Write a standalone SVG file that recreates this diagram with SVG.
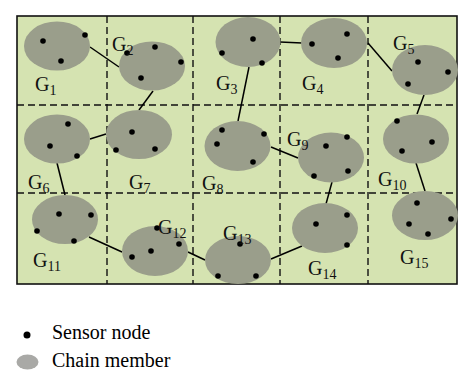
<svg xmlns="http://www.w3.org/2000/svg" width="474" height="391" viewBox="0 0 474 391">
<style>
.bg{fill:#d5e3b1;stroke:#111;stroke-width:1.6}
.grid{stroke:#111;stroke-width:1.4;stroke-dasharray:7 4;fill:none}
.cl{fill:#9a9e8b}
.d{fill:#000}
.lk{stroke:#000;stroke-width:1.5;fill:none}
.lb{font-family:"Liberation Serif",serif;font-size:20px;fill:#111}
.sb{font-size:14px}
.lg{font-family:"Liberation Serif",serif;font-size:20px;fill:#000}
</style>
<rect class="bg" x="17" y="16" width="440" height="268"/>
<g id="grid">
<line class="grid" x1="107" y1="16" x2="107" y2="284"/>
<line class="grid" x1="193" y1="16" x2="193" y2="284"/>
<line class="grid" x1="280" y1="16" x2="280" y2="284"/>
<line class="grid" x1="368" y1="16" x2="368" y2="284"/>
<line class="grid" x1="17" y1="105" x2="457" y2="105"/>
<line class="grid" x1="17" y1="193" x2="457" y2="193"/>
</g>
<g id="connectors">
<line class="lk" x1="90" y1="47" x2="119" y2="67"/>
<line class="lk" x1="153" y1="91" x2="139" y2="110"/>
<line class="lk" x1="280" y1="42" x2="302" y2="43"/>
<line class="lk" x1="368" y1="43" x2="392" y2="71"/>
<line class="lk" x1="424" y1="95" x2="417" y2="114"/>
<line class="lk" x1="90" y1="139" x2="106" y2="134"/>
<line class="lk" x1="249" y1="67" x2="238" y2="121"/>
<line class="lk" x1="271" y1="147" x2="298" y2="158"/>
<line class="lk" x1="332" y1="182" x2="326" y2="204"/>
<line class="lk" x1="416" y1="163" x2="425" y2="191"/>
<line class="lk" x1="57" y1="163" x2="65" y2="195"/>
<line class="lk" x1="89" y1="237" x2="122" y2="252"/>
<line class="lk" x1="188" y1="252" x2="205" y2="260"/>
<line class="lk" x1="271" y1="259" x2="302" y2="246"/>
</g>
<g id="G1"><ellipse class="cl" cx="57" cy="46" rx="33" ry="24.5"/><circle class="d" cx="43" cy="41" r="2.8"/><circle class="d" cx="85" cy="35" r="2.8"/><circle class="d" cx="61" cy="61" r="2.8"/><text class="lb" x="35" y="91">G<tspan class="sb" dy="4">1</tspan></text></g>
<g id="G2"><ellipse class="cl" cx="152" cy="66" rx="33" ry="24.5"/><circle class="d" cx="127" cy="53" r="2.8"/><circle class="d" cx="155" cy="47" r="2.8"/><circle class="d" cx="181" cy="62" r="2.8"/><circle class="d" cx="141" cy="78" r="2.8"/><text class="lb" x="112" y="51">G<tspan class="sb" dy="4">2</tspan></text></g>
<g id="G3"><ellipse class="cl" cx="248" cy="42" rx="32.5" ry="25"/><circle class="d" cx="253" cy="39" r="2.8"/><circle class="d" cx="222" cy="53" r="2.8"/><circle class="d" cx="262" cy="63" r="2.8"/><text class="lb" x="216" y="90">G<tspan class="sb" dy="4">3</tspan></text></g>
<g id="G4"><ellipse class="cl" cx="334" cy="43" rx="33" ry="25"/><circle class="d" cx="312" cy="44" r="2.8"/><circle class="d" cx="347" cy="34" r="2.8"/><circle class="d" cx="338" cy="58" r="2.8"/><text class="lb" x="302" y="90">G<tspan class="sb" dy="4">4</tspan></text></g>
<g id="G5"><ellipse class="cl" cx="425" cy="70" rx="33" ry="25"/><circle class="d" cx="418" cy="62" r="2.8"/><circle class="d" cx="448" cy="72" r="2.8"/><circle class="d" cx="408" cy="84" r="2.8"/><text class="lb" x="393" y="50">G<tspan class="sb" dy="4">5</tspan></text></g>
<g id="G6"><ellipse class="cl" cx="57" cy="139" rx="33" ry="24.5"/><circle class="d" cx="68" cy="124" r="2.8"/><circle class="d" cx="50" cy="146" r="2.8"/><circle class="d" cx="77" cy="156" r="2.8"/><text class="lb" x="28" y="189">G<tspan class="sb" dy="4">6</tspan></text></g>
<g id="G7"><ellipse class="cl" cx="139" cy="134.5" rx="33" ry="24.5"/><circle class="d" cx="132" cy="132" r="2.8"/><circle class="d" cx="116" cy="150" r="2.8"/><circle class="d" cx="155" cy="149" r="2.8"/><text class="lb" x="129" y="189">G<tspan class="sb" dy="4">7</tspan></text></g>
<g id="G8"><ellipse class="cl" cx="237.5" cy="146" rx="33" ry="25"/><circle class="d" cx="222" cy="130" r="2.8"/><circle class="d" cx="264" cy="134" r="2.8"/><circle class="d" cx="217" cy="144" r="2.8"/><circle class="d" cx="253" cy="162" r="2.8"/><text class="lb" x="202" y="190">G<tspan class="sb" dy="4">8</tspan></text></g>
<g id="G9"><ellipse class="cl" cx="331" cy="157.5" rx="33" ry="25"/><circle class="d" cx="326" cy="146" r="2.8"/><circle class="d" cx="347" cy="137" r="2.8"/><circle class="d" cx="314" cy="176" r="2.8"/><circle class="d" cx="348" cy="171" r="2.8"/><text class="lb" x="287" y="146">G<tspan class="sb" dy="4">9</tspan></text></g>
<g id="G10"><ellipse class="cl" cx="416" cy="139" rx="33" ry="24.5"/><circle class="d" cx="397" cy="121" r="2.8"/><circle class="d" cx="432" cy="142" r="2.8"/><circle class="d" cx="402" cy="151" r="2.8"/><text class="lb" x="378" y="186">G<tspan class="sb" dy="4">10</tspan></text></g>
<g id="G11"><ellipse class="cl" cx="65" cy="219.5" rx="33" ry="24.5"/><circle class="d" cx="59" cy="214" r="2.8"/><circle class="d" cx="91" cy="215" r="2.8"/><circle class="d" cx="37" cy="231" r="2.8"/><circle class="d" cx="74" cy="241" r="2.8"/><text class="lb" x="33" y="267">G<tspan class="sb" dy="4">11</tspan></text></g>
<g id="G12"><ellipse class="cl" cx="155" cy="251" rx="33" ry="25"/><circle class="d" cx="157" cy="228" r="2.8"/><circle class="d" cx="179" cy="244" r="2.8"/><circle class="d" cx="151" cy="251" r="2.8"/><circle class="d" cx="132" cy="257" r="2.8"/><text class="lb" x="158" y="234">G<tspan class="sb" dy="4">12</tspan></text></g>
<g id="G13"><ellipse class="cl" cx="238" cy="260" rx="33" ry="24"/><circle class="d" cx="240" cy="244" r="2.8"/><circle class="d" cx="218" cy="276" r="2.8"/><circle class="d" cx="256" cy="276" r="2.8"/><text class="lb" x="223" y="240">G<tspan class="sb" dy="4">13</tspan></text></g>
<g id="G14"><ellipse class="cl" cx="325" cy="228" rx="33" ry="25"/><circle class="d" cx="316" cy="224" r="2.8"/><circle class="d" cx="347" cy="215" r="2.8"/><circle class="d" cx="347" cy="245" r="2.8"/><text class="lb" x="308" y="275">G<tspan class="sb" dy="4">14</tspan></text></g>
<g id="G15"><ellipse class="cl" cx="425" cy="215.5" rx="33" ry="24.5"/><circle class="d" cx="417" cy="203" r="2.8"/><circle class="d" cx="451" cy="219" r="2.8"/><circle class="d" cx="409" cy="224" r="2.8"/><circle class="d" cx="428" cy="234" r="2.8"/><text class="lb" x="400" y="264">G<tspan class="sb" dy="4">15</tspan></text></g>
<g id="legend">
<circle class="d" cx="27" cy="335" r="3.5"/>
<text class="lg" x="52" y="339">Sensor node</text>
<ellipse cx="27.5" cy="362" rx="11" ry="7.5" fill="#a9a9a6"/>
<text class="lg" x="52" y="367">Chain member</text>
</g>
</svg>
